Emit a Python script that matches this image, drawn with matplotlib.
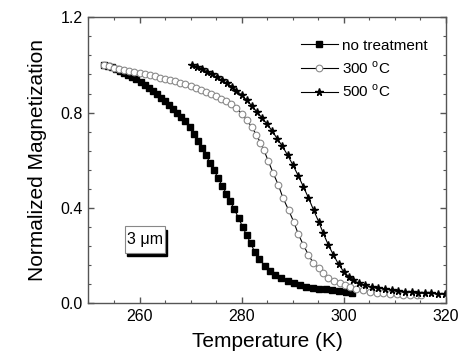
import matplotlib
matplotlib.use('Agg')
import matplotlib.pyplot as plt
from matplotlib.patches import Rectangle
from matplotlib.ticker import MultipleLocator

plt.rcParams['font.family'] = ['Liberation Sans', 'DejaVu Sans']
plt.rcParams['mathtext.fontset'] = 'custom'
plt.rcParams['mathtext.rm'] = 'Liberation Sans'

# no treatment (squares)
t_none = [253.0, 253.8, 254.6, 255.4, 256.2, 257.0, 257.8, 258.6, 259.4, 260.2,
          261.0, 261.8, 262.6, 263.4, 264.2, 265.0, 265.8, 266.6, 267.4, 268.2,
          269.0, 269.8, 270.6, 271.4, 272.2, 273.0, 273.8, 274.6, 275.4, 276.2,
          277.0, 277.8, 278.6, 279.4, 280.2, 281.0, 281.8, 282.6, 283.5, 284.5,
          285.5, 286.6, 287.8, 289.0, 290.2, 291.4, 292.6, 293.9, 295.2, 296.5,
          297.8, 299.1, 300.4, 301.7]
m_none = [1.000, 0.995, 0.990, 0.984, 0.975, 0.967, 0.959, 0.950, 0.939, 0.927,
          0.915, 0.903, 0.890, 0.876, 0.862, 0.847, 0.832, 0.816, 0.800, 0.782,
          0.763, 0.740, 0.711, 0.682, 0.652, 0.622, 0.590, 0.558, 0.525, 0.492,
          0.460, 0.427, 0.393, 0.357, 0.320, 0.284, 0.250, 0.213, 0.185, 0.157,
          0.134, 0.117, 0.104, 0.093, 0.083, 0.075, 0.069, 0.064, 0.060, 0.057,
          0.054, 0.050, 0.047, 0.043]

# 300 C (open circles)
t_300 = [253.0, 254.0, 255.0, 256.0, 257.0, 258.0, 259.0, 260.0, 261.0, 262.0,
         263.0, 264.0, 265.0, 266.0, 267.0, 268.0, 269.0, 270.0, 271.0, 272.0,
         273.0, 274.0, 275.0, 276.0, 277.0, 278.0, 279.0, 280.0, 281.0, 282.0,
         282.9, 283.7, 284.4, 285.2, 286.2, 287.2, 288.1, 289.2, 290.2, 291.1,
         292.1, 293.1, 294.0, 295.1, 296.0, 297.0, 298.1, 299.2, 300.3, 301.3,
         302.5, 303.8, 305.2, 306.5, 307.8, 309.1, 310.4, 311.7, 313.0, 314.4,
         315.2]
m_300 = [1.000, 0.995, 0.989, 0.983, 0.978, 0.974, 0.970, 0.966, 0.961, 0.956,
         0.952, 0.947, 0.942, 0.937, 0.931, 0.925, 0.918, 0.911, 0.903, 0.895,
         0.887, 0.878, 0.868, 0.858, 0.847, 0.835, 0.819, 0.796, 0.768, 0.740,
         0.706, 0.674, 0.641, 0.598, 0.545, 0.496, 0.442, 0.391, 0.342, 0.290,
         0.244, 0.202, 0.170, 0.146, 0.125, 0.106, 0.092, 0.083, 0.075, 0.067,
         0.060, 0.053, 0.047, 0.043, 0.041, 0.038, 0.037, 0.035, 0.035, 0.035,
         0.035]

# 500 C (stars)
t_500 = [270.2, 271.2, 272.2, 273.2, 274.2, 275.1, 276.1, 277.1, 278.1, 279.0,
         280.0, 281.0, 282.0, 283.0, 284.0, 285.0, 286.0, 287.0, 288.0, 289.0,
         290.1, 291.1, 292.1, 293.1, 294.1, 295.1, 296.0, 297.0, 298.0, 299.0,
         300.0, 301.0, 301.9, 303.0, 304.2, 305.5, 306.8, 308.1, 309.4, 310.7,
         312.0, 313.3, 314.6, 315.9, 317.2, 318.5, 319.8]
m_500 = [1.000, 0.992, 0.983, 0.972, 0.961, 0.949, 0.937, 0.923, 0.909, 0.892,
         0.874, 0.852, 0.829, 0.803, 0.778, 0.752, 0.722, 0.690, 0.658, 0.622,
         0.578, 0.535, 0.489, 0.442, 0.391, 0.342, 0.293, 0.244, 0.202, 0.163,
         0.132, 0.111, 0.095, 0.083, 0.074, 0.068, 0.064, 0.059, 0.056, 0.052,
         0.048, 0.046, 0.044, 0.042, 0.041, 0.039, 0.038]

labels = ['no treatment', '300 $^{\\rm o}$C', '500 $^{\\rm o}$C']

fig = plt.figure(figsize=(4.74, 3.62), dpi=100)
ax = fig.add_axes([0.1867, 0.163, 0.7536, 0.789])

ax.plot(t_none, m_none, '-', color='k', lw=0.8, marker='s', ms=4.0,
        mfc='k', mec='k', label=labels[0])
ax.plot(t_300, m_300, '-', color='k', lw=0.8, marker='o', ms=4.8,
        mfc='white', mec='#8a8a8a', mew=0.8, label=labels[1])
ax.plot(t_500, m_500, '-', color='k', lw=0.8, marker='*', ms=5.6,
        mfc='k', mec='k', label=labels[2])

ax.set_xlim(250, 320)
ax.set_ylim(0, 1.2)
ax.xaxis.set_minor_locator(MultipleLocator(5))
ax.yaxis.set_minor_locator(MultipleLocator(0.08))
ax.set_xticks([260, 280, 300, 320])
ax.set_yticks([0.0, 0.4, 0.8, 1.2])
ax.set_yticklabels(['0.0', '0.4', '0.8', '1.2'])

for s in ax.spines.values():
    s.set_color('#555555')
    s.set_linewidth(1.0)
ax.tick_params(which='both', direction='in', top=True, right=True,
               color='#555555', labelsize=11.5, pad=4)
ax.tick_params(which='major', length=4.5, width=1.0)
ax.tick_params(which='minor', length=2.5, width=0.8)

ax.set_xlabel('Temperature (K)', fontsize=15, labelpad=6)
ax.set_ylabel('Normalized Magnetization', fontsize=15, labelpad=10)

leg = ax.legend(loc='upper left', bbox_to_anchor=(0.595, 0.925), frameon=False,
                fontsize=11, numpoints=1, handlelength=2.4, handletextpad=0.3,
                labelspacing=0.45, borderpad=0, borderaxespad=0)

# scale bar label with drop shadow
ax.add_patch(Rectangle((0.109, 0.163), 0.112, 0.094, transform=ax.transAxes,
                       facecolor='k', edgecolor='k', zorder=4))
ax.add_patch(Rectangle((0.101, 0.175), 0.112, 0.094, transform=ax.transAxes,
                       facecolor='white', edgecolor='#888888', lw=0.8, zorder=5))
ax.text(0.157, 0.222, '3 \u03bcm', transform=ax.transAxes, fontsize=11.5,
        ha='center', va='center', zorder=6)

fig.savefig('out.png', dpi=100)
